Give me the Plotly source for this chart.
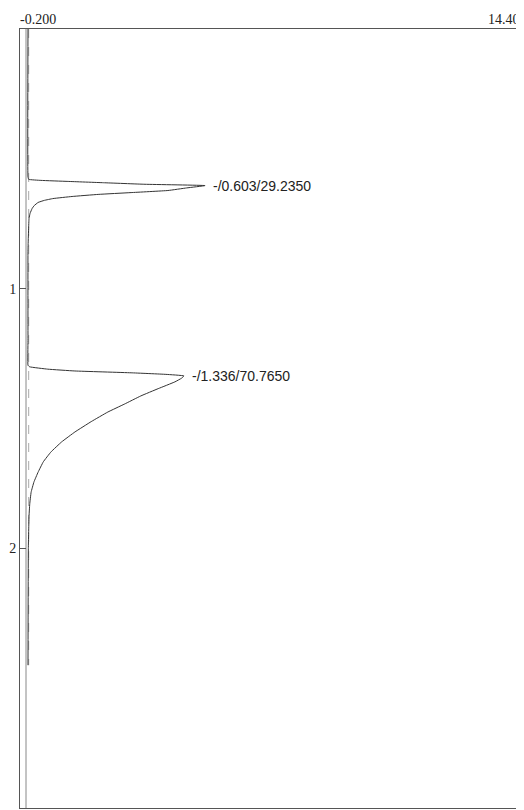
import plotly.graph_objects as go

# retention time (min) and signal
times = [0.0, 0.570, 0.579, 0.583, 0.587, 0.592, 0.598, 0.603, 0.612, 0.622, 0.630, 0.637, 0.645, 0.653, 0.660, 0.668, 0.680, 0.691, 0.710, 0.730, 0.85,
         1.20, 1.295, 1.301, 1.310, 1.317, 1.324, 1.330, 1.336, 1.345, 1.359, 1.385, 1.413, 1.445, 1.475, 1.512, 1.552, 1.590, 1.629, 1.667, 1.707, 1.745, 1.784, 1.830, 1.876, 2.0, 2.45]
signal = [0.03, 0.03, 0.05, 0.4, 1.18, 2.2, 3.4, 5.13, 4.6, 4.06, 3.0, 2.05, 1.3, 0.75, 0.5, 0.32, 0.21, 0.15, 0.09, 0.06, 0.03,
          0.03, 0.03, 0.08, 0.6, 1.38, 3.0, 4.0, 4.52, 4.45, 4.26, 3.78, 3.28, 2.8, 2.33, 1.85, 1.38, 1.0, 0.69, 0.47, 0.32, 0.2, 0.12, 0.08, 0.06, 0.04, 0.03]
peak_times = [0.603, 1.336]
peak_heights = [5.13, 4.52]
peak_labels = ["-/0.603/29.2350", "-/1.336/70.7650"]
x_range = [-0.2, 14.4]
y_range = [3.0, 0.0]

fig = go.Figure()
fig.add_trace(go.Scatter(x=[0.05, 0.05], y=[0.0, 2.45], mode="lines",
                         line=dict(color="#aaaaaa", width=1, dash="dash"), hoverinfo="skip"))
fig.add_trace(go.Scatter(x=[-0.027, -0.027], y=[0.0, 3.0], mode="lines",
                         line=dict(color="#888888", width=1), hoverinfo="skip"))
fig.add_trace(go.Scatter(x=signal, y=times, mode="lines", line=dict(color="#333333", width=1, shape="spline", smoothing=0.3)))
for t, h, lab in zip(peak_times, peak_heights, peak_labels):
    fig.add_annotation(x=h, y=t, text=lab, showarrow=False, xanchor="left", xshift=6,
                       font=dict(family="Liberation Sans, Arial", size=14, color="#222"))
fig.add_annotation(x=0, xref="paper", y=1, yref="paper", yanchor="bottom", xanchor="left", xshift=-2,
                   text=f"{x_range[0]:.3f}", showarrow=False, font=dict(family="Liberation Serif", size=14, color="#222"))
fig.add_annotation(x=1, xref="paper", y=1, yref="paper", yanchor="bottom", xanchor="right", xshift=2,
                   text=f"{x_range[1]:.3f}", showarrow=False, font=dict(family="Liberation Serif", size=14, color="#222"))

fig.update_layout(width=524, height=810, margin=dict(l=12, r=5, t=21, b=10, autoexpand=False),
                  paper_bgcolor="white", plot_bgcolor="white", showlegend=False,
                  xaxis=dict(range=x_range, showgrid=False, zeroline=False, showticklabels=False, automargin=False,
                             showline=True, mirror=True, linecolor="#555", linewidth=1),
                  yaxis=dict(range=y_range, showgrid=False, zeroline=False, tickvals=[1, 2], automargin=False,
                             ticktext=["1", "2"], ticks="inside", ticklen=6, tickcolor="#555",
                             showline=True, mirror=True, linecolor="#555", linewidth=1,
                             tickfont=dict(family="Liberation Serif", size=14, color="#222")))
fig.write_html("out.html")
